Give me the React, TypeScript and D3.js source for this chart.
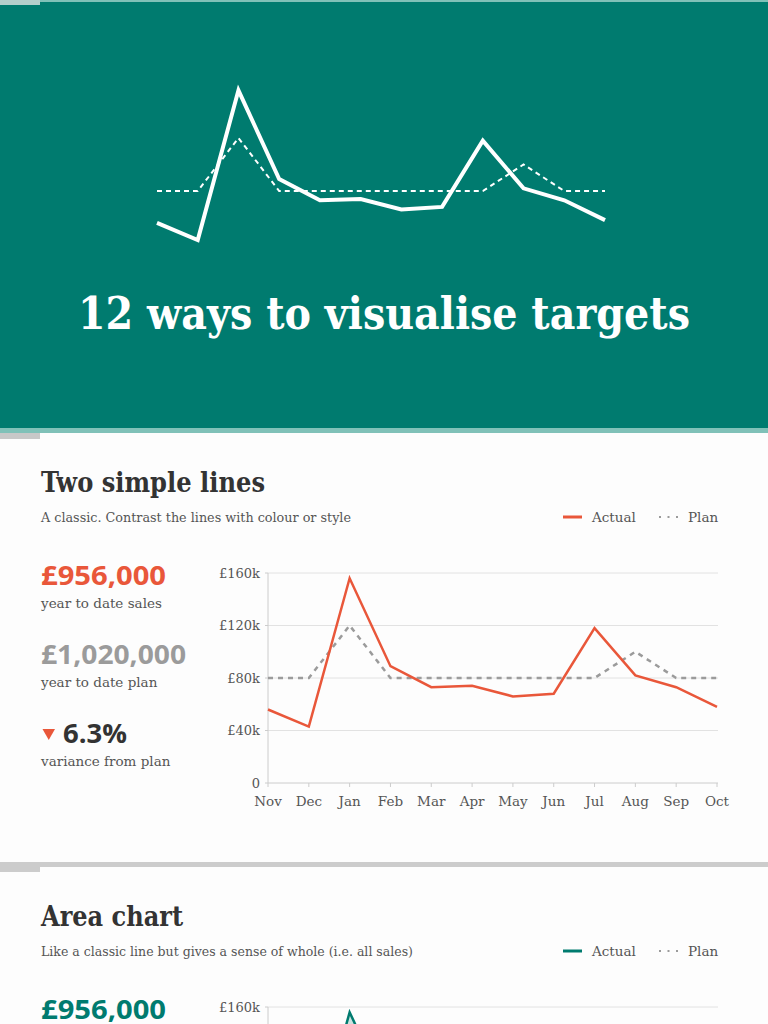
import React from "react";
import * as d3 from "d3";

// ---- data (thousands of £) ----
const months = ["Nov", "Dec", "Jan", "Feb", "Mar", "Apr", "May", "Jun", "Jul", "Aug", "Sep", "Oct"];
const actualK = [56, 43, 156, 89, 73, 74, 66, 68, 118, 82, 73, 58];
const planK = [80, 80, 120, 80, 80, 80, 80, 80, 80, 100, 80, 80];
const yTicksK = [0, 40, 80, 120, 160];
const totalActual = "£956,000";
const totalPlan = "£1,020,000";
const variance = "6.3%";

const GREEN = "#007B6F";
const LIGHT_TEAL = "#80C1B8";
const ORANGE = "#E9573A";
const GREY = "#9B9B9B";
const DARK = "#333333";
const BODY = "#555555";
const SERIF = "'DejaVu Serif', serif";
const SANS = "'Open Sans', sans-serif";
const PAGE_H = 1024;

const fmtTick = (v: number) => (v === 0 ? "0" : `£${v}k`);

function makeLine(x: d3.ScalePoint<string>, y: d3.ScaleLinear<number, number>) {
  return d3
    .line<number>()
    .x((_, i) => x(months[i]) as number)
    .y((d) => y(d));
}

function Header() {
  const x = d3.scalePoint<string>().domain(months).range([157, 605]);
  const y = d3.scaleLinear().domain([0, 160]).range([297, 85]);
  const line = makeLine(x, y);
  return (
    <g>
      <rect x={0} y={0} width={768} height={430} fill={GREEN} />
      <rect x={0} y={0} width={768} height={2} fill={LIGHT_TEAL} />
      <rect x={0} y={0} width={40} height={5} fill="#B4CFCB" />
      <path d={line(planK) || ""} fill="none" stroke="#fff" strokeWidth={2} strokeDasharray="5 4" />
      <path d={line(actualK) || ""} fill="none" stroke="#fff" strokeWidth={4} strokeLinejoin="miter" />
      <text
        x={384}
        y={329}
        fill="#fff"
        textAnchor="middle"
        fontFamily={SERIF}
        fontWeight={700}
        fontSize={45}
        textLength={612}
        lengthAdjust="spacingAndGlyphs"
      >
        12 ways to visualise targets
      </text>
      <rect x={0} y={428} width={768} height={5} fill={LIGHT_TEAL} />
    </g>
  );
}

type SectionProps = {
  top: number;
  title: string;
  titleLen: number;
  subtitle: string;
  subtitleLen: number;
  color: string;
  area?: boolean;
  separator: "teal" | "grey";
};

function Section({ top, title, titleLen, subtitle, subtitleLen, color, area, separator }: SectionProps) {
  const x = d3.scalePoint<string>().domain(months).range([268, 717]);
  const y = d3.scaleLinear().domain([0, 160]).range([top + 350, top + 140]);
  const line = makeLine(x, y);
  const areaGen = d3
    .area<number>()
    .x((_, i) => x(months[i]) as number)
    .y0(y(0))
    .y1((d) => y(d));
  const x0 = x.range()[0];
  const x1 = 718;
  const vis = (yy: number) => yy - 14 < PAGE_H; // only draw texts that reach the page
  return (
    <g>
      {separator === "grey" ? (
        <g>
          <rect x={0} y={top - 5} width={768} height={5} fill="#CCCCCC" />
          <rect x={0} y={top - 5} width={40} height={10} fill="#CCCCCC" />
        </g>
      ) : (
        <rect x={0} y={top} width={40} height={6} fill="#C8C8C8" />
      )}
      <text
        x={41}
        y={top + 59}
        fill={DARK}
        fontFamily={SERIF}
        fontWeight={700}
        fontSize={27}
        textLength={titleLen}
        lengthAdjust="spacingAndGlyphs"
      >
        {title}
      </text>
      <text
        x={41}
        y={top + 89}
        fill={BODY}
        fontFamily={SERIF}
        fontSize={13.5}
        textLength={subtitleLen}
        lengthAdjust="spacingAndGlyphs"
      >
        {subtitle}
      </text>
      {/* legend */}
      <line x1={563} x2={582} y1={top + 84} y2={top + 84} stroke={color} strokeWidth={3} />
      <text x={592} y={top + 89} fill={BODY} fontFamily={SERIF} fontSize={13.5}>
        Actual
      </text>
      <line
        x1={659}
        x2={681}
        y1={top + 84}
        y2={top + 84}
        stroke={GREY}
        strokeWidth={2}
        strokeDasharray="2 6.5"
      />
      <text x={688} y={top + 89} fill={BODY} fontFamily={SERIF} fontSize={13.5}>
        Plan
      </text>

      {/* stats */}
      <text
        x={41}
        y={top + 152}
        fill={color}
        fontFamily={SANS}
        fontWeight={700}
        fontSize={27}
        textLength={125}
        lengthAdjust="spacingAndGlyphs"
      >
        {totalActual}
      </text>
      {vis(top + 175) && (
        <text x={41} y={top + 175} fill={BODY} fontFamily={SERIF} fontSize={13.5}>
          year to date sales
        </text>
      )}
      {vis(top + 231) && (
        <text
          x={41}
          y={top + 231}
          fill={GREY}
          fontFamily={SANS}
          fontWeight={700}
          fontSize={27}
          textLength={145}
          lengthAdjust="spacingAndGlyphs"
        >
          {totalPlan}
        </text>
      )}
      {vis(top + 254) && (
        <text x={41} y={top + 254} fill={BODY} fontFamily={SERIF} fontSize={13.5}>
          year to date plan
        </text>
      )}
      <path d={`M42.5,${top + 296}L55,${top + 296}L48.75,${top + 307}Z`} fill={ORANGE} />
      {vis(top + 310) && (
        <text
          x={63}
          y={top + 310}
          fill={DARK}
          fontFamily={SANS}
          fontWeight={700}
          fontSize={27}
          textLength={64}
          lengthAdjust="spacingAndGlyphs"
        >
          {variance}
        </text>
      )}
      {vis(top + 333) && (
        <text x={41} y={top + 333} fill={BODY} fontFamily={SERIF} fontSize={13.5}>
          variance from plan
        </text>
      )}

      {/* grid + axes */}
      {yTicksK.map((t) => (
        <g key={t}>
          {t > 0 && <line x1={x0} x2={x1} y1={y(t)} y2={y(t)} stroke="#E2E2E2" strokeWidth={1} />}
          <line x1={x0 - 3} x2={x0} y1={y(t)} y2={y(t)} stroke="#CCCCCC" />
          {vis(y(t) + 5) && (
            <text
              x={x0 - 8}
              y={y(t)}
              dy="0.35em"
              textAnchor="end"
              fill={BODY}
              fontFamily={SERIF}
              fontSize={13}
            >
              {fmtTick(t)}
            </text>
          )}
        </g>
      ))}
      {area && <path d={areaGen(actualK) || ""} fill="#CDE4E1" stroke="none" />}
      <line x1={x0} x2={x0} y1={y(160)} y2={y(0)} stroke="#CCCCCC" />
      <line x1={x0} x2={x1} y1={y(0)} y2={y(0)} stroke="#CCCCCC" />
      {months.map((m) => (
        <g key={m}>
          <line x1={x(m)} x2={x(m)} y1={y(0)} y2={y(0) + 4} stroke="#CCCCCC" />
          {vis(y(0) + 23) && (
            <text
              x={x(m)}
              y={y(0) + 23}
              textAnchor="middle"
              fill={BODY}
              fontFamily={SERIF}
              fontSize={13.5}
            >
              {m}
            </text>
          )}
        </g>
      ))}

      {/* series */}
      <path
        d={line(planK) || ""}
        fill="none"
        stroke={GREY}
        strokeWidth={2.5}
        strokeDasharray="5 5"
      />
      <path d={line(actualK) || ""} fill="none" stroke={color} strokeWidth={2.5} />
    </g>
  );
}

export default function App() {
  return (
    <svg
      width={768}
      height={PAGE_H}
      viewBox={`0 0 768 ${PAGE_H}`}
      style={{ position: "absolute", left: 0, top: 0, background: "#FDFDFD", display: "block" }}
    >
      <rect x={0} y={0} width={768} height={PAGE_H} fill="#FDFDFD" />
      <Header />
      <Section
        top={433}
        title="Two simple lines"
        titleLen={224}
        subtitle="A classic. Contrast the lines with colour or style"
        subtitleLen={310}
        color={ORANGE}
        separator="teal"
      />
      <Section
        top={867}
        title="Area chart"
        titleLen={142}
        subtitle="Like a classic line but gives a sense of whole (i.e. all sales)"
        subtitleLen={372}
        color={GREEN}
        area
        separator="grey"
      />
    </svg>
  );
}
